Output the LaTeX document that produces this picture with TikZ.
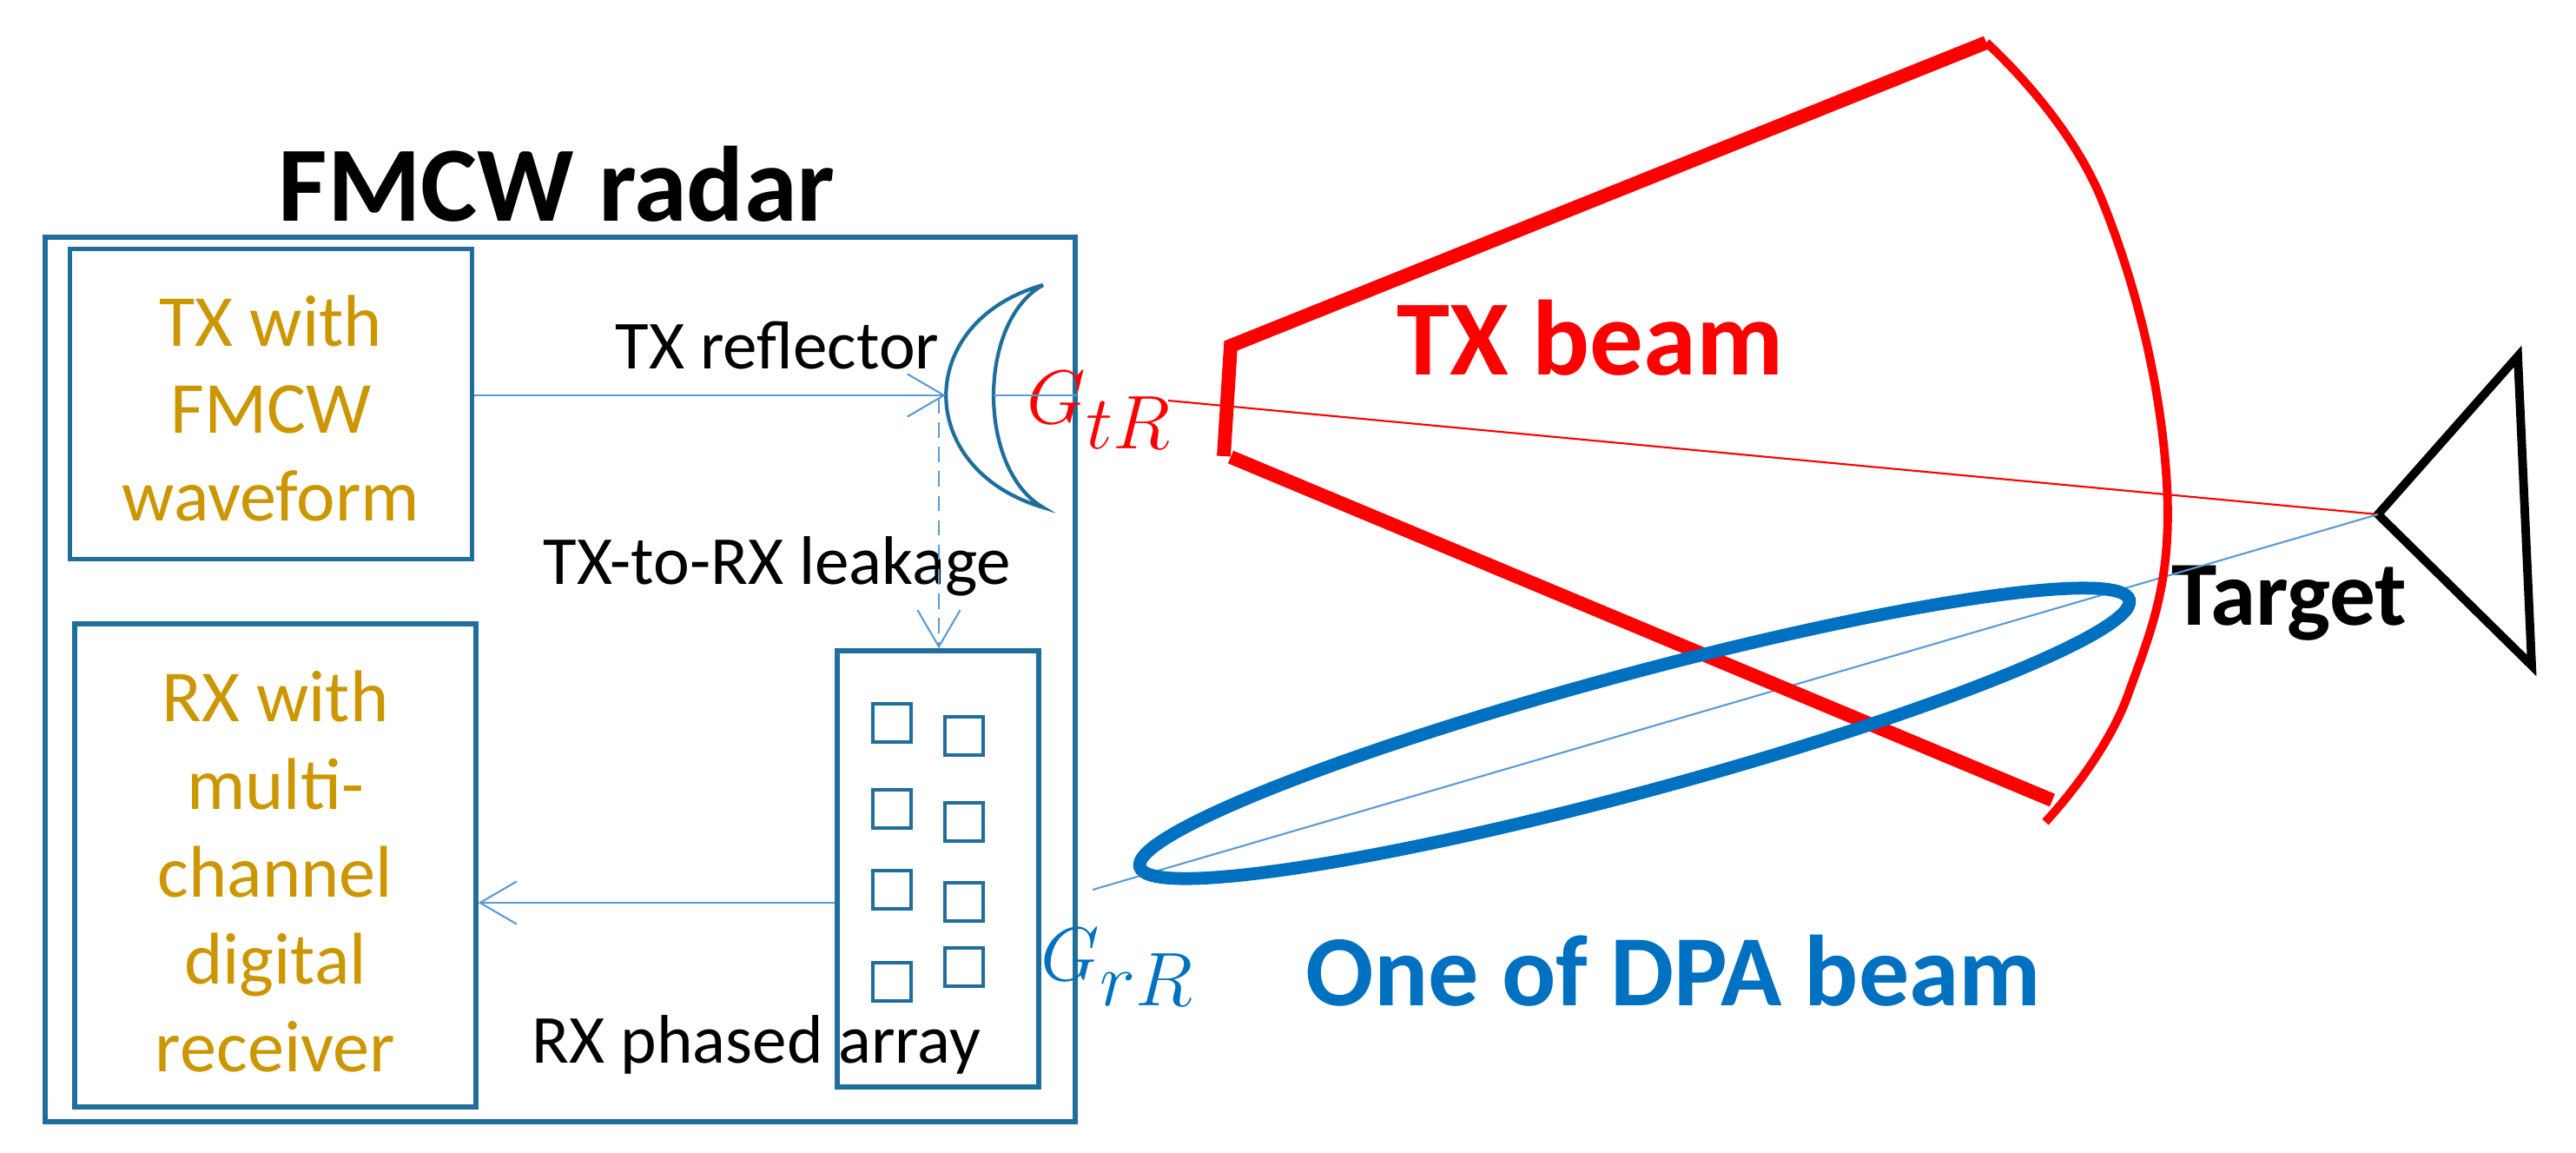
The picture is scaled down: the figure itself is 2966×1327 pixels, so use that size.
\documentclass[tikz,border=0pt]{standalone}
\usepackage{fontspec}
\setmainfont{Carlito}
\usetikzlibrary{arrows.meta}
\definecolor{gold}{RGB}{204,150,0}
\definecolor{boxblue}{RGB}{31,110,156}
\definecolor{lblue}{RGB}{91,155,213}
\definecolor{dblue}{RGB}{0,112,192}
\tikzset{
  box/.style={draw=boxblue,line width=1.5pt,inner sep=0pt},
  boxtxt/.style={text=gold,align=center,font=\fontsize{24}{28.7}\selectfont},
  lbl/.style={font=\fontsize{22.5}{26}\selectfont},
  flow/.style={draw=lblue,line width=0.6pt,-{Straight Barb[length=12pt,width=14pt,line width=0.6pt]}},
  elem/.style={draw=boxblue,line width=1.3pt,minimum size=12.5pt,inner sep=0pt},
  gain/.style={anchor=base west,inner sep=0pt,font=\fontsize{38}{42}\selectfont},
}
\begin{document}
\begin{tikzpicture}[x=0.01cm,y=-0.01cm]
\useasboundingbox (0,0) rectangle (2966,1327);
% frame
\node[box,minimum width=1186*0.01cm,minimum height=1018*0.01cm] (radar) at (645,782) {};
\node[font=\fontsize{35}{40}\selectfont\bfseries] (title) at (641,212) {FMCW radar};
\node[box,minimum width=463*0.01cm,minimum height=357*0.01cm] (tx) at (312,465) {};
\node[boxtxt] (txt) at (312,470) {TX with\\FMCW\\waveform};
\node[box,minimum width=462*0.01cm,minimum height=556*0.01cm] (rx) at (317,996) {};
\node[boxtxt] (rxt) at (317,1003) {RX with\\multi-\\channel\\digital\\receiver};
\node[box,minimum width=232*0.01cm,minimum height=502*0.01cm] (arr) at (1080,1000) {};
% elements
\foreach \n/\x/\y in {a/1027/832,b/1027/931,c/1027/1024,d/1027/1130,e/1110/847,f/1110/946,g/1110/1038,h/1110/1113}
  \node[elem] (el\n) at (\x,\y) {};
% reflector
\coordinate (refl) at (1089,455);
\draw[boxblue,line width=1.2pt] (1201,328) .. controls (1052,370) and (1052,540) .. (1201,584)
  .. controls (1125,540) and (1125,370) .. (1201,328);
\node[lbl] (trefl) at (895,398) {TX reflector};
\node[lbl] (leak) at (895,652) {TX-to-RX leakage};
\node[lbl] (rpa) at (871,1202) {RX phased array};
\draw[flow] (tx.east |- refl) -- (refl);
\coordinate (lk1) at (1081,458);
\draw[flow,dash pattern=on 5pt off 3pt] (lk1) -- (lk1 |- arr.north);
\draw[flow] (arr.west |- 0,1039) -- (rx.east |- 0,1039);
% gains
\node[gain,text=red] (gt) at (1182,487) {$G_{tR}$};
\node[gain,text=dblue] (gr) at (1198,1128) {$G_{rR}$};
\coordinate (c1) at (1144,455);
\coordinate (c2) at (1240,455);
\draw[lblue,line width=0.6pt] (c1) -- (c2);
% target
\coordinate (tip) at (2738,592);
\coordinate (ttop) at (2899,410);
\coordinate (tbot) at (2915,766);
\draw[line width=2.8pt,line join=miter] (tip) -- (ttop) -- (tbot) -- cycle;
\node[font=\fontsize{30}{34}\selectfont\bfseries] (target) at (2636,694) {Target};
% lines
\coordinate (rs) at (1345,461);
\draw[red,line width=0.6pt] (rs) -- (tip);
\coordinate (bs) at (1258,1024);
\draw[lblue,line width=0.6pt] (bs) -- (tip);
% TX beam
\draw[red,line width=4.5pt] (2287,49) -- (1417,398) -- (1409,525);
\draw[red,line width=4.5pt] (1417,526) -- (2363,921);
\draw[red,line width=2.8pt] plot[smooth,tension=0.7] coordinates {(2287,49) (2420,230) (2495,559) (2450,800) (2355,946)};
\node[text=red,font=\fontsize{35}{40}\selectfont\bfseries] (txb) at (1831,389) {TX beam};
% DPA beam
\begin{scope}[shift={(1882,844)},rotate=15.1]
\draw[dblue,line width=4.2pt] (0,0) ellipse [x radius=590, y radius=68];
\end{scope}
\node[text=dblue,font=\fontsize{33}{38}\selectfont\bfseries] (dpa) at (1927,1117) {One of DPA beam};
\end{tikzpicture}
\end{document}
